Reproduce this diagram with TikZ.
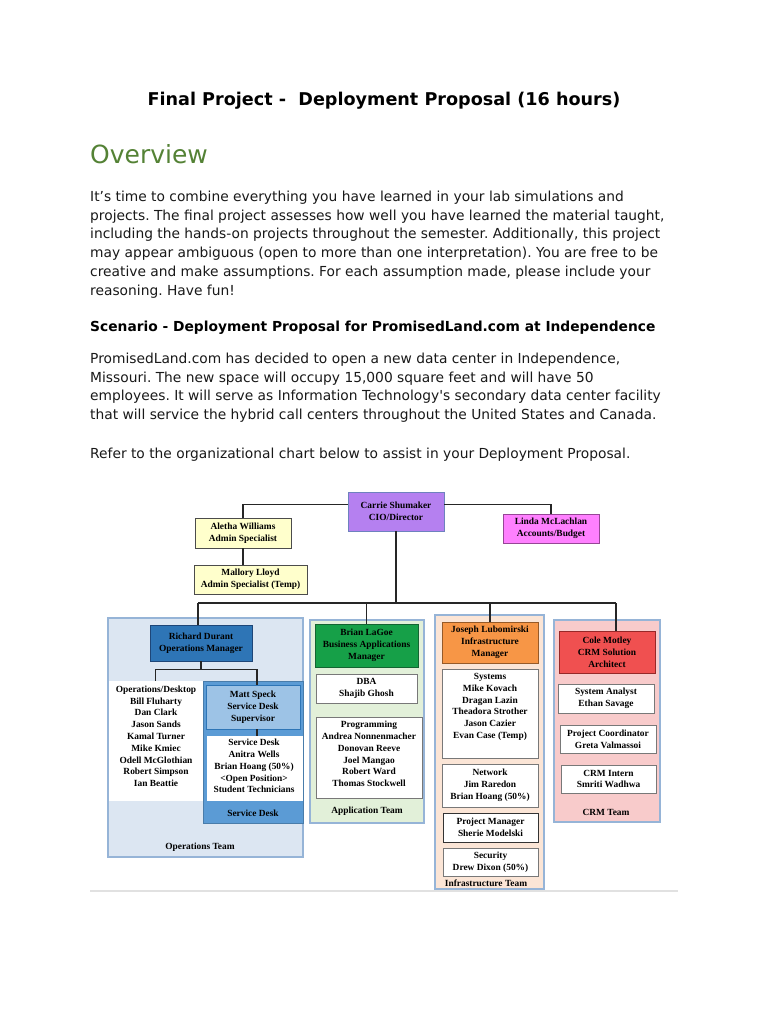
\documentclass[tikz,border=0pt]{standalone}
\usepackage{fontspec}
\setmainfont{DejaVu Sans}[Ligatures=TeXOff]
\newfontfamily\orgfont{Liberation Serif}
\frenchspacing
\definecolor{ovgreen}{RGB}{84,130,53}
\definecolor{bodytext}{RGB}{25,25,25}
\definecolor{cio}{RGB}{181,128,240}
\definecolor{cioborder}{RGB}{110,130,190}
\definecolor{budget}{RGB}{255,128,255}
\definecolor{budgetborder}{RGB}{150,70,150}
\definecolor{admin}{RGB}{255,255,204}
\definecolor{opsbg}{RGB}{220,230,242}
\definecolor{opsmgr}{RGB}{46,117,182}
\definecolor{opsmgrborder}{RGB}{30,70,120}
\definecolor{sdblue}{RGB}{91,155,213}
\definecolor{sdsup}{RGB}{157,195,230}
\definecolor{appbg}{RGB}{226,240,217}
\definecolor{appmgr}{RGB}{22,160,72}
\definecolor{appmgrborder}{RGB}{20,100,50}
\definecolor{infbg}{RGB}{251,229,214}
\definecolor{infmgr}{RGB}{247,150,70}
\definecolor{infmgrborder}{RGB}{150,90,40}
\definecolor{crmbg}{RGB}{248,203,203}
\definecolor{crmmgr}{RGB}{240,80,80}
\definecolor{crmmgrborder}{RGB}{150,40,40}
\definecolor{teamborder}{RGB}{150,180,215}
\definecolor{boxborder}{RGB}{120,120,120}
\definecolor{rulegrey}{RGB}{225,225,225}
\newcommand\orgbox[7]{\node[#6, minimum width={#4-#2}, minimum height={#5-#3}] (#1) at ({(#2+#4)/2},{(#3+#5)/2}) {#7};}
\tikzset{
  bodyline/.style={anchor=base west, inner sep=0pt, text=bodytext, font=\fontsize{13.8}{18.7}\selectfont},
  orgtxt/.style={font=\fontsize{9.4}{11.8}\selectfont\orgfont\bfseries, align=center, inner sep=0pt},
  obox/.style={orgtxt, draw=boxborder, line width=0.8pt},
  wbox/.style={obox, fill=white},
  team/.style={draw=teamborder, line width=1.2pt},
  conn/.style={draw=black!85, line width=1.8pt}
}
\begin{document}
\begin{tikzpicture}[x=1pt,y=-1pt]
\useasboundingbox[fill=white] (0,0) rectangle (768,1024);
% ---------- text part ----------
\node[anchor=base, inner sep=0pt, font=\fontsize{17.6}{20}\selectfont\bfseries, text=black] (title) at (384,106) {Final Project -\ \ Deployment Proposal (16 hours)};
\node[anchor=base west, inner sep=0pt, font=\fontsize{25}{28}\selectfont, text=ovgreen] (overview) at (90,164) {Overview};
\node[bodyline] (p1) at (90,201.5) {It’s time to combine everything you have learned in your lab simulations and};
\node[bodyline] (p2) at (90,220.2) {projects. The final project assesses how well you have learned the material taught,};
\node[bodyline] (p3) at (90,238.9) {including the hands-on projects throughout the semester. Additionally, this project};
\node[bodyline] (p4) at (90,257.6) {may appear ambiguous (open to more than one interpretation). You are free to be};
\node[bodyline] (p5) at (90,276.3) {creative and make assumptions. For each assumption made, please include your};
\node[bodyline] (p6) at (90,295.0) {reasoning. Have fun!};
\node[bodyline, font=\fontsize{13.8}{18.7}\selectfont\bfseries, text=black] (scen) at (90,331.5) {Scenario - Deployment Proposal for PromisedLand.com at Independence};
\node[bodyline] (q1) at (90,363.5) {PromisedLand.com has decided to open a new data center in Independence,};
\node[bodyline] (q2) at (90,382.2) {Missouri. The new space will occupy 15,000 square feet and will have 50};
\node[bodyline] (q3) at (90,400.9) {employees. It will serve as Information Technology's secondary data center facility};
\node[bodyline] (q4) at (90,419.6) {that will service the hybrid call centers throughout the United States and Canada.};
\node[bodyline] (refer) at (90,458.5) {Refer to the organizational chart below to assist in your Deployment Proposal.};
% ---------- top of chart ----------
\orgbox{carrie}{348}{492}{444}{531}{obox, fill=cio, draw=cioborder}{Carrie Shumaker\\CIO/Director}
\orgbox{aletha}{195}{518}{291}{548}{obox, fill=admin, draw=black!70}{Aletha Williams\\Admin Specialist}
\orgbox{mallory}{194}{565}{307}{594}{obox, fill=admin, draw=black!70}{Mallory Lloyd\\Admin Specialist (Temp)}
\orgbox{linda}{503}{514}{599}{543}{obox, fill=budget, draw=budgetborder}{Linda McLachlan\\Accounts/Budget}
% ---------- team areas ----------
\orgbox{opsteam}{108}{618}{303}{857}{team, fill=opsbg}{}
\orgbox{sdarea}{203}{681}{303}{823}{draw=sdblue!80!black, line width=0.8pt, fill=sdblue}{}
\orgbox{appteam}{310}{620}{424}{823}{team, fill=appbg}{}
\orgbox{infteam}{435}{615}{544}{889}{team, fill=infbg}{}
\orgbox{crmteam}{554}{620}{660}{822}{team, fill=crmbg}{}
% ---------- operations ----------
\orgbox{richard}{150}{625}{252}{661}{obox, fill=opsmgr, draw=opsmgrborder}{Richard Durant\\Operations Manager}
\orgbox{opslist}{109}{681}{202}{800}{wbox, draw=white}{}
\node[orgtxt, anchor=north] (opstext) at (156,685.5) {Operations/Desktop\\Bill Fluharty\\Dan Clark\\Jason Sands\\Kamal Turner\\Mike Kmiec\\Odell McGlothian\\Robert Simpson\\Ian Beattie};
\orgbox{matt}{206}{685}{300}{729}{obox, fill=sdsup, draw=opsmgr}{Matt Speck\\Service Desk\\Supervisor}
\orgbox{sdlist}{207}{736}{302}{800}{wbox, draw=white}{}
\node[orgtxt, anchor=north] (sdtext) at (254,739) {Service Desk\\Anitra Wells\\Brian Hoang (50\%)\\<Open Position>\\Student Technicians};
\node[orgtxt] (sdlabel) at (253,813) {Service Desk};
\node[orgtxt] (opslabel) at (200,847) {Operations Team};
% ---------- applications ----------
\orgbox{brian}{315}{624}{418}{667}{obox, fill=appmgr, draw=appmgrborder}{Brian LaGoe\\Business Applications\\Manager}
\orgbox{dba}{316}{674}{417}{703}{wbox}{DBA\\Shajib Ghosh}
\orgbox{prog}{316}{717}{422}{798}{wbox}{}
\node[orgtxt, anchor=north] (progtext) at (369,721) {Programming\\Andrea Nonnenmacher\\Donovan Reeve\\Joel Mangao\\Robert Ward\\Thomas Stockwell};
\node[orgtxt] (applabel) at (367,811) {Application Team};
% ---------- infrastructure ----------
\orgbox{joseph}{442}{622}{538}{663}{obox, fill=infmgr, draw=infmgrborder}{Joseph Lubomirski\\Infrastructure\\Manager}
\orgbox{systems}{442}{669}{538}{758}{wbox}{}
\node[orgtxt, anchor=north] (systext) at (490,673) {Systems\\Mike Kovach\\Dragan Lazin\\Theadora Strother\\Jason Cazier\\Evan Case (Temp)};
\orgbox{network}{442}{764}{538}{807}{wbox}{Network\\Jim Raredon\\Brian Hoang (50\%)}
\orgbox{pm}{443}{813}{538}{842}{wbox, draw=black!80}{Project Manager\\Sherie Modelski}
\orgbox{security}{443}{848}{538}{876}{wbox}{Security\\Drew Dixon (50\%)}
\node[orgtxt] (inflabel) at (486,883) {Infrastructure Team};
% ---------- CRM ----------
\orgbox{cole}{559}{631}{655}{673}{obox, fill=crmmgr, draw=crmmgrborder}{Cole Motley\\CRM Solution\\Architect}
\orgbox{analyst}{558}{684}{654}{713}{wbox}{System Analyst\\Ethan Savage}
\orgbox{coord}{560}{725}{656}{753}{wbox}{Project Coordinator\\Greta Valmassoi}
\orgbox{intern}{561}{765}{656}{793}{wbox}{CRM Intern\\Smriti Wadhwa}
\node[orgtxt] (crmlabel) at (606,812) {CRM Team};
% ---------- connectors ----------
\coordinate (busL) at (198,603);
\coordinate (busR) at (616,603);
\coordinate (opsj) at (201,669.5);
\draw[conn] ([yshift=7pt]carrie.west) -| (aletha.north);
\draw[conn] (aletha.south) -- (aletha.south |- mallory.north);
\draw[conn] ([yshift=7pt]carrie.east) -| (linda.north);
\draw[conn] (carrie.south) -- (carrie.south |- busL);
\draw[conn] (busL) -- (busR);
\draw[conn] (busL) -- (busL |- richard.north);
\draw[conn] (brian.north |- busL) -- (brian.north);
\draw[conn] (joseph.north |- busL) -- (joseph.north);
\draw[conn] (busR) -- (busR |- cole.north);
\draw[conn] (richard.south) -- (opsj);
\draw[conn] (opslist.north) |- (opsj) -| ([xshift=4pt]matt.north);
\draw[conn] ([xshift=4pt]matt.south) -- ([xshift=4pt]matt.south |- sdlist.north);
% ---------- bottom rule ----------
\draw[rulegrey, line width=1.5pt] (90,891) -- (678,891);
\end{tikzpicture}
\end{document}
